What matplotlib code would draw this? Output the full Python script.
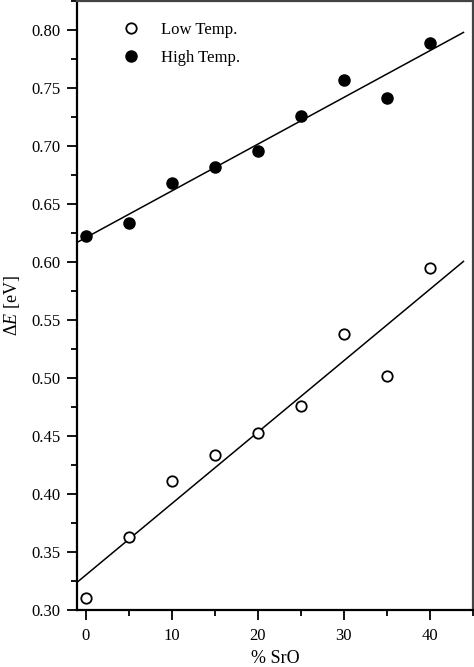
import numpy as np
import matplotlib.pyplot as plt

plt.rcParams['font.family'] = ['Liberation Serif', 'DejaVu Serif']
plt.rcParams['mathtext.fontset'] = 'custom'
plt.rcParams['mathtext.it'] = 'Liberation Serif:italic'
plt.rcParams['mathtext.rm'] = 'Liberation Serif'

## data
sro = [0, 5, 10, 15, 20, 25, 30, 35, 40]
e_low = [0.310, 0.3625, 0.4115, 0.4335, 0.4525, 0.4755, 0.5375, 0.5015, 0.5945]
e_high = [0.622, 0.634, 0.668, 0.6815, 0.6958, 0.7258, 0.757, 0.7412, 0.7885]

fig = plt.figure(figsize=(4.74, 6.67), dpi=100)
ax = fig.add_axes([0.1624, 0.0855, 0.8354, 0.9130])

# linear fits
xfit = np.array([-1.0, 43.9])
p_low = np.polyfit(sro, e_low, 1)
p_high = np.polyfit(sro, e_high, 1)
ax.plot(xfit, np.polyval(p_high, xfit), '-', color='black', lw=1.1)
ax.plot(xfit, np.polyval(p_low, xfit), '-', color='black', lw=1.1)

ax.plot(sro, e_low, 'o', mfc='white', mec='black', mew=1.3, ms=7.5,
        label='Low Temp.', clip_on=False)
ax.plot(sro, e_high, 'o', color='black', ms=8, label='High Temp.',
        clip_on=False)

ax.set_xlim(-1, 45)
ax.set_ylim(0.30, 0.825)
ax.set_xticks([0, 10, 20, 30, 40])
ax.set_xticks([5, 15, 25, 35, 45], minor=True)
ax.set_yticks(np.arange(0.30, 0.801, 0.05))
ax.set_yticks(np.arange(0.325, 0.826, 0.05), minor=True)
ax.set_yticklabels(['%.2f' % v for v in np.arange(0.30, 0.801, 0.05)])
ax.tick_params(which='major', direction='out', length=7, width=1.3,
               labelsize=12, colors='black')
ax.tick_params(which='minor', direction='out', length=4.5, width=1.3)
ax.tick_params(axis='x', pad=6)
ax.tick_params(axis='y', pad=5)

for s in ['left', 'bottom']:
    ax.spines[s].set_linewidth(1.6)
for s in ['top', 'right']:
    ax.spines[s].set_linewidth(1.6)
    ax.spines[s].set_color('#444444')

ax.set_xlabel('% SrO', fontsize=13, labelpad=4)
ax.set_ylabel(r'$\Delta \mathit{E}$ [eV]', fontsize=13)
ax.yaxis.set_label_coords(-0.138, 0.5)

ax.legend(loc='upper left', bbox_to_anchor=(0.0775, 0.99), frameon=False,
          fontsize=12, handletextpad=1.3, labelspacing=0.7, numpoints=1,
          handlelength=1.0)

fig.savefig('out.png', dpi=100)
